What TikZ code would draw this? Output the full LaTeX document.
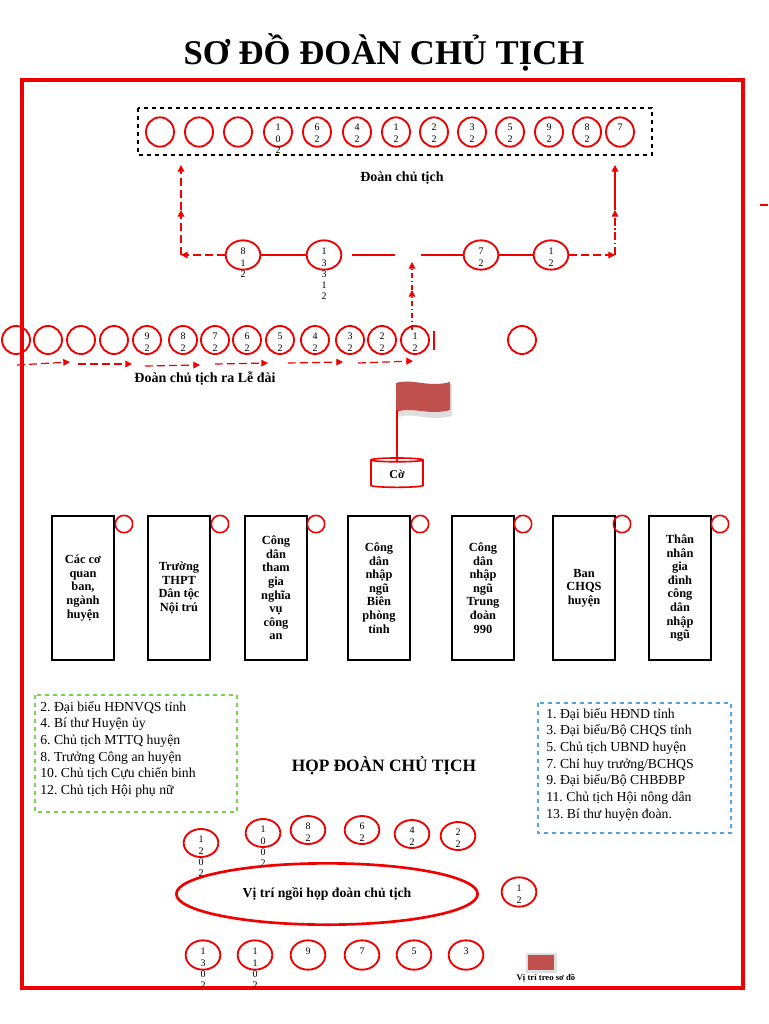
\documentclass[tikz,border=0pt]{standalone}
\usepackage{fontspec}
\setmainfont{Liberation Serif}
\usetikzlibrary{shapes.geometric,arrows.meta}
\definecolor{rd}{RGB}{240,0,0}
\definecolor{flagc}{RGB}{192,80,77}
\frenchspacing
\begin{document}
\begin{tikzpicture}[x=0.75pt,y=-0.75pt,
  seat/.style={draw=rd,line width=1.4pt,ellipse,inner sep=0pt,minimum width=#1},
  seat/.default=28pt,
  dig/.style={font=\fontsize{7.5}{8.4}\selectfont,align=center,inner sep=0pt,anchor=north},
  arr/.style={draw=rd,line width=0.9pt,-{Triangle[length=5pt,width=5pt]}},
  dsh/.style={dash pattern=on 6pt off 3pt},
  box/.style={draw,line width=1.4pt,minimum width=46.5pt,minimum height=108pt,inner sep=1pt},
  bt/.style={font=\bfseries\fontsize{9.3}{10.2}\selectfont,align=center},
  sm/.style={draw=rd,line width=1.2pt,circle,minimum size=13pt,inner sep=0pt},
  leg/.style={font=\fontsize{10.3}{12.5}\selectfont,align=left,anchor=north west,inner sep=0pt}]
\useasboundingbox (0,0) rectangle (768,1024);
\fill[white] (0,0) rectangle (768,1024);
\node (title) at (384,52) {\bfseries\fontsize{26}{30}\selectfont SƠ ĐỒ ĐOÀN CHỦ TỊCH};
\draw[rd,line width=2.6pt] (22,80) rectangle (743,988);
\draw[rd,line width=1pt] (760,205) -- (768,205);
% top row
\draw[dashed,line width=1pt] (138,108) rectangle (652,155);
\foreach \x/\l [count=\i] in {160/,199/,238/,278/{1\\0\\2},317/{6\\2},357/{4\\2},396/{1\\2},434/{2\\2},472/{3\\2},510/{5\\2},549/{9\\2},587/{8\\2},620/7}{
  \node[seat=21pt,minimum height=22pt] (t\i) at (\x,132) {};
  \node[dig] at (\x,124) {\l};
}
\node[font=\bfseries\fontsize{10.5}{12}\selectfont] (dct) at (402,178) {Đoàn chủ tịch};
% middle row
\foreach \x/\l/\n in {243/{8\\1\\2}/m1,324/{1\\3\\3\\1\\2}/m2,481/{7\\2}/m3,551/{1\\2}/m4}{
  \node[seat=26pt,minimum height=22pt] (\n) at (\x,255) {};
  \node[dig] at (\x,248) {\l};
}
\coordinate (lc) at (181,255); \coordinate (lm) at (181,210); \coordinate (lt) at (181,165);
\coordinate (rc) at (615,255); \coordinate (rm) at (615,210); \coordinate (rt) at (615,165);
\draw[rd,line width=0.9pt] (m1) -- (m2);
\draw[rd,line width=0.9pt] (m2.east) ++(10,0) -- (395,255);
\draw[rd,line width=0.9pt] (421,255) -- (m3);
\draw[rd,line width=0.9pt] (m3) -- (m4);
\draw[arr,dsh] (m1) -- (lc);
\draw[arr,dsh] (lc) -- (lm);
\draw[arr,dsh] (lm) -- (lt);
\draw[arr,dsh] (m4) -- (rc);
\draw[arr,dash pattern=on 6pt off 2pt on 1pt off 2pt] (rc) -- (rm);
\draw[arr] (rm) -- (rt);
\coordinate (cb) at (412,330); \coordinate (cm) at (412,290); \coordinate (ct) at (412,262);
\draw[arr,dash pattern=on 4pt off 2pt on 1pt off 2pt] (cb) -- (cm);
\draw[arr,dash pattern=on 4pt off 2pt on 1pt off 2pt] (cm) -- (ct);
% row 3
\foreach \x/\l [count=\i] in {16/,48/,81/,114/,147/{9\\2},183/{8\\2},215/{7\\2},247/{6\\2},280/{5\\2},315/{4\\2},350/{3\\2},382/{2\\2},415/{1\\2}}{
  \node[seat=21pt,minimum height=21pt] (r\i) at (\x,340) {};
  \node[dig] at (\x,333) {\l};
}
\draw[rd,line width=1pt] (434,331) -- (434,350);
\node[seat=21pt,minimum height=21pt] (rx) at (522,340) {};
\foreach \a/\b/\c/\d in {17/365/70/362,78/364/132/364,145/366/200/365,215/364/268/363,288/363/343/362,358/363/413/361}{
  \draw[arr,dsh] (\a,\b) -- (\c,\d);
}
\node[font=\bfseries\fontsize{10.5}{12}\selectfont] (ra) at (205,379) {Đoàn chủ tịch ra Lễ đài};
% flag
\fill[gray!25] (398,385) .. controls (415,380) and (430,390) .. (452,384) -- (452,416) .. controls (430,422) and (415,412) .. (398,417) -- cycle;
\fill[flagc] (396,383) .. controls (413,378) and (428,388) .. (450,382) -- (450,410) .. controls (428,416) and (413,406) .. (396,412) -- cycle;
\node[draw=rd,line width=1.2pt,cylinder,shape border rotate=90,aspect=0.25,minimum width=39pt,minimum height=22pt,inner sep=0pt,font=\bfseries\fontsize{9}{10}\selectfont] (co) at (397,474) {\raisebox{-5pt}{Cờ}};
\draw[rd,line width=0.8pt] (397,410) -- (397,462);
% boxes
\foreach \x/\t/\c [count=\i] in {83/{Các cơ\\quan\\ban,\\ngành\\huyện}/124,179/{Trường\\THPT\\Dân tộc\\Nội trú}/220,276/{Công\\dân\\tham\\gia\\nghĩa\\vụ\\công\\an}/316,379/{Công\\dân\\nhập\\ngũ\\Biên\\phòng\\tỉnh}/420,483/{Công\\dân\\nhập\\ngũ\\Trung\\đoàn\\990}/523,584/{Ban\\CHQS\\huyện}/622,680/{Thân\\nhân\\gia\\đình\\công\\dân\\nhập\\ngũ}/720}{
  \node[box] (b\i) at (\x,588) {};
  \node[bt] at (\x,588) {\t};
  \node[sm] (s\i) at (\c,524) {};
}
% legends
\draw[green!50!olive!70,dashed,line width=0.8pt] (35,695) rectangle (237,812);
\node[leg] (lg1) at (40,701) {2. Đại biểu HĐNVQS tỉnh\\4. Bí thư Huyện ủy\\6. Chủ tịch MTTQ huyện\\8. Trưởng Công an huyện\\10. Chủ tịch Cựu chiến binh\\12. Chủ tịch Hội phụ nữ};
\draw[cyan!70!blue!70,dashed,line width=0.8pt] (538,703) rectangle (731,833);
\node[leg] (lg2) at (546,708) {1. Đại biểu HĐND tỉnh\\3. Đại biểu/Bộ CHQS tỉnh\\5. Chủ tịch UBND huyện\\7. Chỉ huy trưởng/BCHQS\\9. Đại biểu/Bộ CHBĐBP\\11. Chủ tịch Hội nông dân\\13. Bí thư huyện đoàn.};
\node[font=\bfseries\fontsize{13}{15}\selectfont] (hop) at (384,766) {HỌP ĐOÀN CHỦ TỊCH};
% meeting
\foreach \x/\y/\l [count=\i] in {201/843/{1\\2\\0\\2},263/833/{1\\0\\0\\2},308/830/{8\\2},362/830/{6\\2},412/834/{4\\2},458/836/{2\\2}}{
  \node[seat=26pt,minimum height=21pt] (u\i) at (\x,\y) {};
  \node[dig] at (\x,\y-7) {\l};
}
\node[draw=rd,line width=2pt,ellipse,minimum width=226pt,minimum height=46pt,inner sep=0pt,font=\bfseries\fontsize{10.3}{11}\selectfont] (tab) at (327,894) {Vị trí ngồi họp đoàn chủ tịch};
\node[seat=26pt,minimum height=22pt] (u7) at (519,892) {};
\node[dig] at (519,885) {1\\2};
\foreach \x/\l [count=\i] in {203/{1\\3\\0\\2},255/{1\\1\\0\\2},308/9,362/7,414/5,466/3}{
  \node[seat=26pt,minimum height=22pt] (d\i) at (\x,955) {};
  \node[dig] at (\x,948) {\l};
}
\fill[gray!25] (526,953) rectangle (557,973);
\fill[flagc] (528,955) rectangle (554,970);
\node[font=\bfseries\fontsize{6.5}{7}\selectfont] (treo) at (546,978) {Vị trí treo sơ đồ};
\end{tikzpicture}
\end{document}
